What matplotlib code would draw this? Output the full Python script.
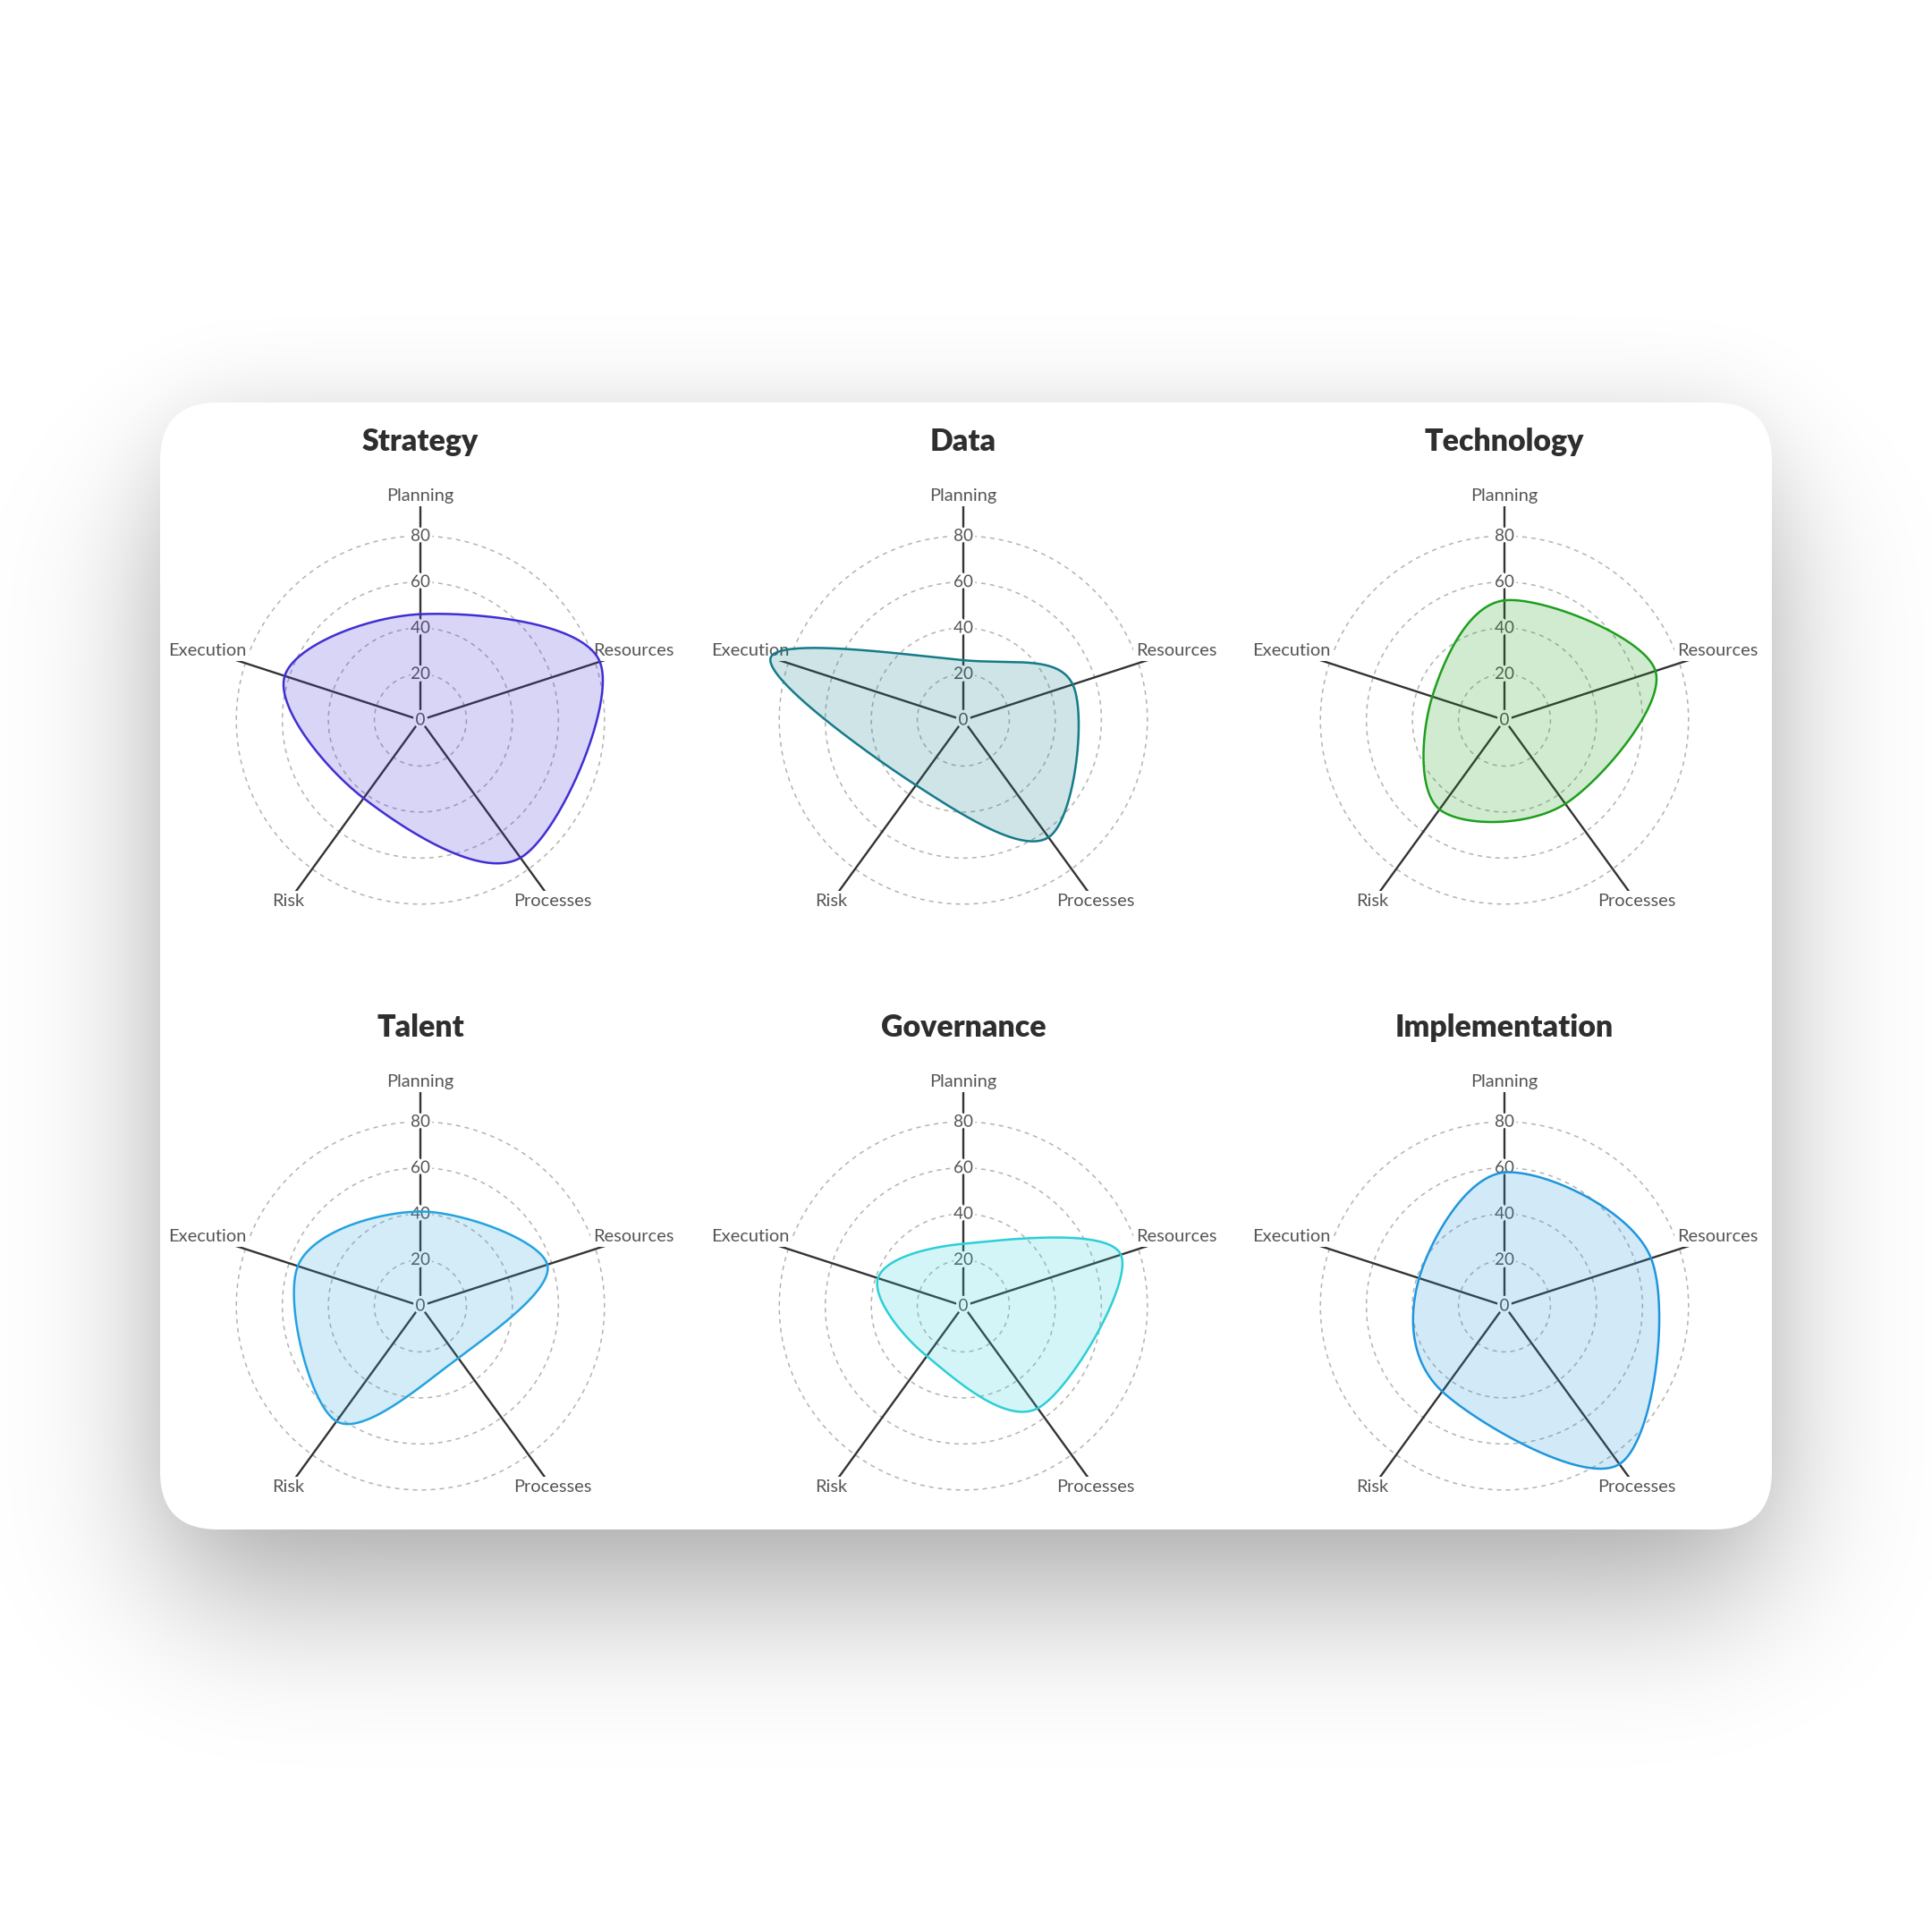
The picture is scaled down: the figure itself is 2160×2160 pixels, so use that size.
import numpy as np
import matplotlib
matplotlib.use('Agg')
import matplotlib.pyplot as plt
import matplotlib.patheffects as pe
from matplotlib.patches import FancyBboxPatch

plt.rcParams['font.family'] = ['Lato', 'DejaVu Sans']
plt.rcParams['lines.scale_dashes'] = False

# data
categories = ['Planning', 'Resources', 'Processes', 'Risk', 'Execution']
panel_titles = ['Strategy', 'Data', 'Technology', 'Talent', 'Governance', 'Implementation']
strategy = [46, 82, 74, 42, 62]
data_vals = [26, 50, 63, 35, 88]
technology = [52, 69, 45, 48, 33]
talent = [41, 58, 28, 62, 56]
governance = [27, 72, 55, 27, 39]
implementation = [58, 67, 85, 46, 39]
tick_values = [0, 20, 40, 60, 80]
line_colors = ['#3f2fd3', '#137b89', '#1d9f1d', '#24a3e0', '#2ccfd7', '#1e96de']

all_values = [strategy, data_vals, technology, talent, governance, implementation]

W = 2160
fig = plt.figure(figsize=(10.8, 10.8), dpi=200)
fig.patch.set_facecolor('white')

# background: card + soft shadow
bg = fig.add_axes([0, 0, 1, 1])
bg.set_xlim(0, W)
bg.set_ylim(W, 0)
bg.axis('off')

card_x0, card_y0, card_x1, card_y1, card_rad = 179, 450, 1981, 1710, 65


def card_mask(xx, yy, dy):
    cx = np.clip(xx, card_x0 + card_rad, card_x1 - card_rad)
    cy = np.clip(yy, card_y0 + dy + card_rad, card_y1 + dy - card_rad)
    return ((xx - cx) ** 2 + (yy - cy) ** 2 <= card_rad ** 2).astype(float)


def blur(img, sigma):
    idx = np.arange(img.shape[0])
    k = np.exp(-(idx[:, None] - idx[None, :]) ** 2 / (2 * sigma ** 2))
    k /= k.sum(axis=1, keepdims=True)
    return k @ img @ k.T


step = 4
g = (np.arange(W // step) + 0.5) * step
xx, yy = np.meshgrid(g, g)
shadow = 0.27 * blur(card_mask(xx, yy, 90), 80 / step) + 0.08 * blur(card_mask(xx, yy, 0), 45 / step)
rgba = np.zeros(shadow.shape + (4,))
rgba[..., 3] = np.clip(shadow, 0, 1)
bg.imshow(rgba, extent=(0, W, W, 0), interpolation='bilinear', zorder=0)
bg.add_patch(FancyBboxPatch((card_x0, card_y0), card_x1 - card_x0, card_y1 - card_y0,
                            boxstyle='round,pad=0,rounding_size=%d' % card_rad,
                            fc='white', ec='none', zorder=1))

angles = np.arange(len(categories)) * 2 * np.pi / len(categories)


def smooth_closed(vals, n=80):
    # closed Catmull-Rom through the data points
    r = np.asarray(vals, float)
    P = np.column_stack([r * np.sin(angles), r * np.cos(angles)])
    m = len(P)
    t = np.linspace(0, 1, n, endpoint=False)[:, None]
    out = []
    for i in range(m):
        p0, p1, p2, p3 = P[i - 1], P[i], P[(i + 1) % m], P[(i + 2) % m]
        out.append(0.5 * (2 * p1 + (-p0 + p2) * t + (2 * p0 - 5 * p1 + 4 * p2 - p3) * t ** 2
                          + (-p0 + 3 * p1 - 3 * p2 + p3) * t ** 3))
    out = np.vstack(out + [P[:1]])
    th = np.unwrap(np.arctan2(out[:, 0], out[:, 1]))
    return th, np.hypot(out[:, 0], out[:, 1])


centers_x = [470, 1077, 1682]
centers_y = [805, 1460]
unit = 205.8 / 80
RMAX = 100
Rpx = RMAX * unit

for k, (title, vals, col) in enumerate(zip(panel_titles, all_values, line_colors)):
    cx = centers_x[k % 3]
    cy = centers_y[k // 3]
    ax = fig.add_axes([(cx - Rpx) / W, 1 - (cy + Rpx) / W, 2 * Rpx / W, 2 * Rpx / W],
                      projection='polar')
    ax.set_theta_zero_location('N')
    ax.set_theta_direction(-1)
    ax.set_ylim(0, RMAX)
    ax.set_xticks([])
    ax.set_yticks([])
    ax.grid(False)
    ax.spines['polar'].set_visible(False)
    ax.patch.set_alpha(0)

    ring_t = np.linspace(0, 2 * np.pi, 361)
    for tv in tick_values[1:]:
        ax.plot(ring_t, np.full_like(ring_t, tv), color='#b3b3b3', lw=0.55,
                dashes=(1.8, 1.8), zorder=1)
    for th in angles:
        ax.plot([th, th], [0, 93], color='#333333', lw=0.85, zorder=2)
    for tv in tick_values:
        ax.text(0, tv, str(tv), ha='center', va='center', fontsize=6.8, color='#555555',
                zorder=3, path_effects=[pe.withStroke(linewidth=2.2, foreground='white')])
    for th, cat in zip(angles, categories):
        ax.text(th, 97.5, cat, ha='center', va='center', fontsize=7.2, color='#555555', zorder=3,
                bbox=dict(boxstyle='square,pad=0.15', fc='white', ec='none'))

    st, sr = smooth_closed(vals)
    ax.fill(st, sr, color=col, alpha=0.2, lw=0, zorder=4)
    ax.plot(st, sr, color=col, lw=0.9, zorder=5)
    ax.text(0, 121, title, ha='center', va='center', fontsize=12.2, fontweight='heavy',
            color='#2e2e2e', zorder=5)

fig.savefig('out.png', dpi=200, facecolor='white')
